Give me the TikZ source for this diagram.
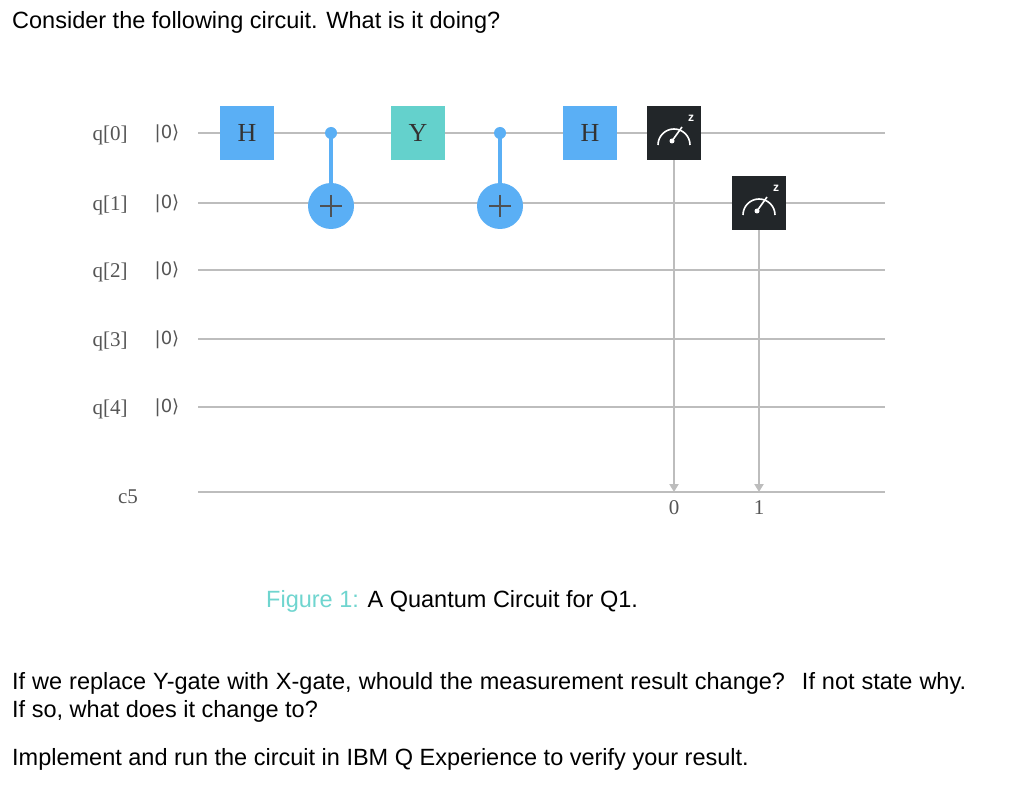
\documentclass[tikz,border=0pt]{standalone}
\usepackage{fontspec}
\setmainfont{Liberation Sans}
\newfontfamily\serifq{Liberation Serif}
\newfontfamily\dejav{DejaVu Sans}
\usetikzlibrary{arrows.meta}
\definecolor{gblue}{HTML}{5AAFF5}
\definecolor{gteal}{HTML}{64D1CC}
\definecolor{wire}{HTML}{BDBDBD}
\definecolor{meas}{HTML}{222629}
\definecolor{lbl}{HTML}{555555}
\definecolor{capc}{HTML}{6FD5CF}
\tikzset{
  txt/.style={anchor=base west,inner sep=0,font=\fontsize{23.5}{28.5}\selectfont},
  qlab/.style={inner sep=0,text=lbl,font=\serifq\fontsize{21}{24}\selectfont},
  ket/.style={inner sep=0,text=lbl,font=\dejav\fontsize{18}{20}\selectfont},
  wireln/.style={wire,line width=2.5pt},
  gate/.style={minimum size=54pt,inner sep=0,font=\serifq\fontsize{26}{28}\selectfont,text=black!80},
  ctrl/.style={circle,fill=gblue,minimum size=12pt,inner sep=0},
  targ/.style={circle,fill=gblue,minimum size=46pt,inner sep=0},
  mbox/.style={fill=meas,minimum size=54pt,inner sep=0},
  cl/.style={wire,line width=2.5pt,-{Triangle[length=8pt,width=9pt]}},
}
\begin{document}
\begin{tikzpicture}[x=1pt,y=-1pt]
\useasboundingbox[fill=white] (0,0) rectangle (1024,791);
\node[txt] (t1) at (12,29) {Consider the following circuit. What is it doing?};
% wires
\foreach \n/\y in {0/133,1/203,2/270,3/339,4/407}{
  \coordinate (ws\n) at (198,\y); \coordinate (we\n) at (885,\y);
  \draw[wireln] (ws\n) -- (we\n);
  \node[qlab] (ql\n) at (110,\y+2) {q[\n]};
  \node[ket] (k\n) at (167,\y+1) {|0⟩};
}
\coordinate (cs) at (198,492); \coordinate (ce) at (885,492);
\draw[wireln] (cs) -- (ce);
\node[qlab] (c5) at (128,497) {c5};
% gates
\node[gate,fill=gblue] (h1) at (247,133) {H};
\node[ctrl] (c1) at (331,133) {};
\node[targ] (x1) at (331,206) {};
\draw[gblue,line width=4pt] (c1.center) -- (x1.center);
\draw[meas!80,line width=2pt] (x1.center) ++(-11,0) -- ++(22,0) (x1.center) ++(0,-11) -- ++(0,22);
\node[gate,fill=gteal] (y1) at (418,133) {Y};
\node[ctrl] (c2) at (500,133) {};
\node[targ] (x2) at (500,206) {};
\draw[gblue,line width=4pt] (c2.center) -- (x2.center);
\draw[meas!80,line width=2pt] (x2.center) ++(-11,0) -- ++(22,0) (x2.center) ++(0,-11) -- ++(0,22);
\node[gate,fill=gblue] (h2) at (590,133) {H};
% measurements
\coordinate (o0) at (674,492);
\coordinate (o1) at (759,492);
\draw[cl] (674,160) -- (o0);
\draw[cl] (759,230) -- (o1);
\foreach \m/\x/\y in {m1/674/133,m2/759/203}{
  \node[mbox] (\m) at (\x,\y) {};
  \draw[white,line width=1.6pt] (\x-16,\y+12) arc[start angle=180,end angle=360,radius=16];
  \draw[white,line width=1.6pt] (\x-2,\y+8) -- (\x+8,\y-6);
  \fill[white] (\x-2,\y+8) circle (2.5);
  \node[white,inner sep=0,font=\bfseries\fontsize{12}{12}\selectfont] at (\x+17,\y-15) {z};
}
\node[qlab,anchor=north] (l0) at (o0) [yshift=-8pt] {0};
\node[qlab,anchor=north] (l1) at (o1) [yshift=-8pt] {1};
% caption
\node[txt] (cap) at (266,607) {\textcolor{capc}{Figure 1:} A Quantum Circuit for Q1.};
% paragraph
\node[txt,text width=954pt,align=justify] (p1) at (12,689) {If we replace Y-gate with X-gate, whould the measurement result change? \ If not state why. If so, what does it change to?};
\node[txt] (p2) at (12,765) {Implement and run the circuit in IBM Q Experience to verify your result.};
\end{tikzpicture}
\end{document}
